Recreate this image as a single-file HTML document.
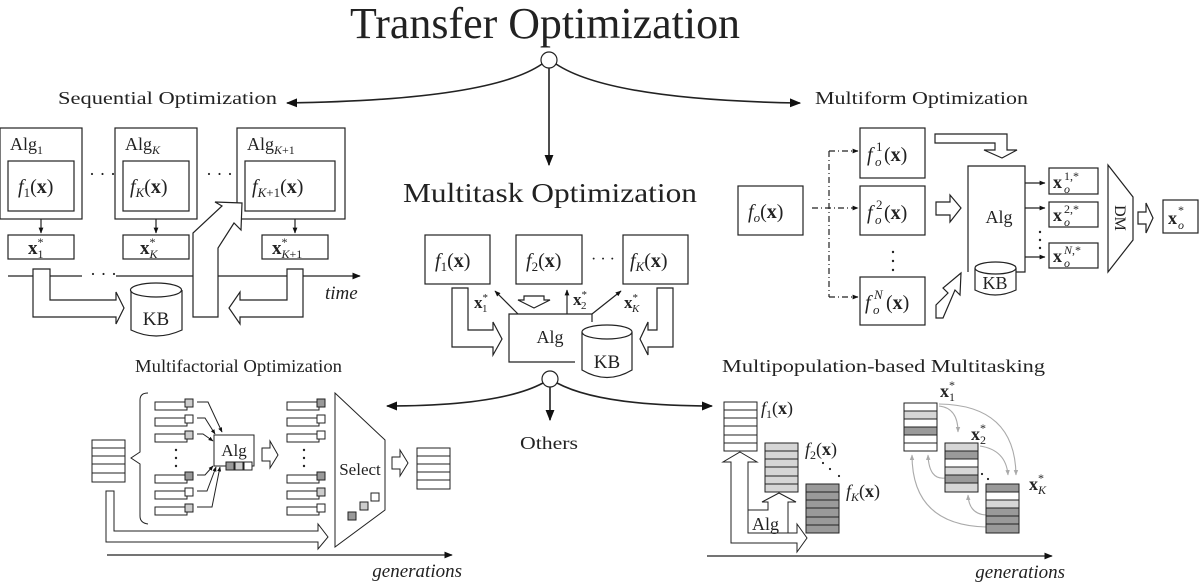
<!DOCTYPE html>
<html><head><meta charset="utf-8"><style>
html,body{margin:0;padding:0;background:#fff}
svg{display:block}
text{font-family:"Liberation Serif",serif;fill:#222}
</style></head><body>
<svg width="1200" height="584" viewBox="0 0 1200 584" xmlns="http://www.w3.org/2000/svg">
<defs>
<marker id="ah" viewBox="0 0 10 10" refX="9" refY="5" markerWidth="7" markerHeight="7" orient="auto-start-reverse"><path d="M0,1 L10,5 L0,9 z" fill="#111"/></marker>
<marker id="ahs" viewBox="0 0 10 10" refX="9" refY="5" markerWidth="5" markerHeight="5" orient="auto"><path d="M0,1 L10,5 L0,9 z" fill="#111"/></marker>
<marker id="ahg" viewBox="0 0 10 10" refX="9" refY="5" markerWidth="5" markerHeight="5" orient="auto"><path d="M0,1 L10,5 L0,9 z" fill="#aaa"/></marker>
</defs>
<g fill="none" stroke="#222" stroke-width="1.2">

<!-- Title -->
<text x="350" y="38" font-size="44" textLength="390" lengthAdjust="spacingAndGlyphs" stroke="none">Transfer Optimization</text>
<circle cx="549" cy="60" r="8" fill="#fff"/>
<path d="M542,64 Q490,100 287,103" marker-end="url(#ah)" stroke-width="1.6"/>
<path d="M556,64 Q610,100 800,103" marker-end="url(#ah)" stroke-width="1.6"/>
<path d="M549,68 L549,165" marker-end="url(#ah)" stroke-width="1.6"/>
<text x="58" y="104" font-size="18" textLength="219" lengthAdjust="spacingAndGlyphs" stroke="none">Sequential Optimization</text>
<text x="815" y="104" font-size="18" textLength="213" lengthAdjust="spacingAndGlyphs" stroke="none">Multiform Optimization</text>

<!-- Sequential -->
<rect x="0" y="128" width="82" height="91"/><rect x="8" y="161" width="66" height="50"/>
<rect x="115" y="128" width="82" height="91"/><rect x="123" y="161" width="66" height="50"/>
<rect x="237" y="128" width="108" height="91"/><rect x="245" y="161" width="90" height="50"/>
<g stroke="none" font-size="18">
<text x="10" y="150">Alg<tspan font-size="12" dy="4">1</tspan></text>
<text x="125" y="150">Alg<tspan font-size="12" dy="4" font-style="italic">K</tspan></text>
<text x="247" y="150">Alg<tspan font-size="12" dy="4" font-style="italic">K</tspan><tspan font-size="12">+1</tspan></text>
<text x="18" y="193" font-size="20"><tspan font-style="italic">f</tspan><tspan font-size="13" dy="4">1</tspan><tspan dy="-4">(</tspan><tspan font-weight="bold">x</tspan>)</text>
<text x="130" y="193" font-size="20"><tspan font-style="italic">f</tspan><tspan font-size="13" dy="4" font-style="italic">K</tspan><tspan dy="-4">(</tspan><tspan font-weight="bold">x</tspan>)</text>
<text x="252" y="193" font-size="20"><tspan font-style="italic">f</tspan><tspan font-size="13" dy="4" font-style="italic">K</tspan><tspan font-size="13">+1</tspan><tspan dy="-4">(</tspan><tspan font-weight="bold">x</tspan>)</text>
<text x="89" y="180" font-size="18">· · ·</text>
<text x="206" y="180" font-size="18">· · ·</text>
<text x="90" y="280" font-size="18">· · ·</text>
<text x="325" y="299" font-size="19" font-style="italic">time</text>
</g>
<path d="M41,219 L41,233" marker-end="url(#ahs)"/>
<path d="M156,219 L156,233" marker-end="url(#ahs)"/>
<path d="M295,219 L295,233" marker-end="url(#ahs)"/>
<rect x="8" y="235" width="66" height="24"/><rect x="123" y="235" width="66" height="24"/><rect x="262" y="235" width="66" height="24"/>
<g stroke="none" font-size="19">
<text x="28" y="254"><tspan font-weight="bold">x</tspan><tspan font-size="12" dy="-8">*</tspan><tspan font-size="12" dx="-6" dy="12">1</tspan></text>
<text x="140" y="254"><tspan font-weight="bold">x</tspan><tspan font-size="12" dy="-8">*</tspan><tspan font-size="12" dx="-6" dy="12" font-style="italic">K</tspan></text>
<text x="272" y="254"><tspan font-weight="bold">x</tspan><tspan font-size="12" dy="-8">*</tspan><tspan font-size="12" dx="-6" dy="12" font-style="italic">K</tspan><tspan font-size="12">+1</tspan></text>
</g>
<path d="M8,276 L82,276 M116,276 L360,276" marker-end="url(#ah)"/>
<path d="M131,290 L131,330 Q156,342 182,330 L182,290" fill="#fff"/><ellipse cx="156" cy="290" rx="25.5" ry="7" fill="#fff"/>
<text x="156" y="325" font-size="19" text-anchor="middle" stroke="none">KB</text>
<polygon points="33,269 50,269 50,300 116,300 116,292 124,308 116,324 116,317 33,317" fill="#fff"/>
<polygon points="287,269 303,269 303,317 240,317 240,324 229,308 240,292 240,300 287,300" fill="#fff"/>
<polygon points="193,317 193,233 222,206 215,202 242,203 241,230 234,223 218,248 218,317" fill="#fff"/>

<!-- Multiform -->
<rect x="738" y="186" width="65" height="49"/>
<rect x="860" y="128" width="65" height="50"/><rect x="860" y="186" width="65" height="49"/><rect x="860" y="277" width="65" height="48"/>
<g stroke-dasharray="6,3,1,3">
<path d="M812,208 L858,208" marker-end="url(#ahs)"/>
<path d="M829,151 L829,297"/>
<path d="M829,151 L858,151" marker-end="url(#ahs)"/>
<path d="M829,297 L858,297" marker-end="url(#ahs)"/>
</g>
<g stroke="none" font-size="20">
<text x="748" y="218"><tspan font-style="italic">f</tspan><tspan font-size="13" dy="4" font-style="italic">o</tspan><tspan dy="-4">(</tspan><tspan font-weight="bold">x</tspan>)</text>
<text x="867" y="161" font-style="italic">f</text><text x="876" y="151" font-size="13">1</text><text x="875" y="166" font-size="13" font-style="italic">o</text><text x="884" y="161">(<tspan font-weight="bold">x</tspan>)</text>
<text x="867" y="219" font-style="italic">f</text><text x="876" y="209" font-size="13">2</text><text x="875" y="224" font-size="13" font-style="italic">o</text><text x="884" y="219">(<tspan font-weight="bold">x</tspan>)</text>
<text x="865" y="309" font-style="italic">f</text><text x="874" y="299" font-size="13" font-style="italic">N</text><text x="873" y="314" font-size="13" font-style="italic">o</text><text x="886" y="309">(<tspan font-weight="bold">x</tspan>)</text>
<text x="999" y="223" text-anchor="middle" font-size="18">Alg</text>
<g font-size="18">
<text x="1168" y="224" font-weight="bold">x</text><text x="1178" y="214" font-size="12">*</text><text x="1178" y="229" font-size="12" font-style="italic">o</text>
<text x="1053" y="188" font-weight="bold">x</text><text x="1064" y="180" font-size="12">1,*</text><text x="1064" y="193" font-size="12" font-style="italic">o</text>
<text x="1053" y="221" font-weight="bold">x</text><text x="1064" y="213" font-size="12">2,*</text><text x="1064" y="226" font-size="12" font-style="italic">o</text>
<text x="1053" y="262" font-weight="bold">x</text><text x="1064" y="254" font-size="12"><tspan font-style="italic">N</tspan>,*</text><text x="1064" y="267" font-size="12" font-style="italic">o</text>
</g>
</g>
<g fill="#222" stroke="none"><circle cx="893" cy="252" r="1.2"/><circle cx="893" cy="261" r="1.2"/><circle cx="893" cy="270" r="1.2"/>
<circle cx="1040" cy="232" r="1.2"/><circle cx="1040" cy="240" r="1.2"/><circle cx="1040" cy="248" r="1.2"/></g>
<polygon points="935,134 1007,134 1007,150 1017,150 1002,158 984,150 995,150 995,143 935,143" fill="#fff"/>
<polygon points="936,202 950,202 950,195 961,208 950,222 950,215 936,215" fill="#fff"/>
<polygon points="936,318 936,305 948,293 943,288 961,273 960,295 955,290 943,318" fill="#fff"/>
<path d="M968,272 L968,166 L1025,166 L1025,272 L1016,272"/>
<path d="M975,268 L975,290 Q995,300 1016,290 L1016,268" fill="#fff"/><ellipse cx="995.5" cy="268" rx="20.5" ry="6" fill="#fff"/>
<text x="995" y="289" font-size="18" text-anchor="middle" stroke="none">KB</text>
<path d="M1025,183 L1045,183" marker-end="url(#ahs)"/>
<path d="M1025,208 L1045,208" marker-end="url(#ahs)"/>
<path d="M1025,257 L1045,257" marker-end="url(#ahs)"/>
<rect x="1049" y="168" width="49" height="26"/><rect x="1049" y="202" width="49" height="25"/><rect x="1049" y="243" width="49" height="25"/>
<polygon points="1108,165 1133,197 1133,240 1108,272"/>
<text x="1120" y="218" font-size="16" stroke="none" transform="rotate(90 1120 218)" text-anchor="middle" dy="5">DM</text>
<polygon points="1138,212 1146,212 1146,203 1153,218 1146,233 1146,224 1138,224" fill="#fff"/>
<rect x="1163" y="200" width="35" height="33"/>

<!-- Multitask -->
<text x="403" y="202" font-size="27" textLength="294" lengthAdjust="spacingAndGlyphs" stroke="none">Multitask Optimization</text>
<rect x="425" y="235" width="65" height="49"/><rect x="516" y="235" width="66" height="49"/><rect x="623" y="235" width="65" height="49"/>
<g stroke="none" font-size="20">
<text x="435" y="267"><tspan font-style="italic">f</tspan><tspan font-size="13" dy="4">1</tspan><tspan dy="-4">(</tspan><tspan font-weight="bold">x</tspan>)</text>
<text x="526" y="267"><tspan font-style="italic">f</tspan><tspan font-size="13" dy="4">2</tspan><tspan dy="-4">(</tspan><tspan font-weight="bold">x</tspan>)</text>
<text x="630" y="267"><tspan font-style="italic">f</tspan><tspan font-size="13" dy="4" font-style="italic">K</tspan><tspan dy="-4">(</tspan><tspan font-weight="bold">x</tspan>)</text>
<text x="591" y="264" font-size="16">· · ·</text>
<text x="550" y="343" font-size="18" text-anchor="middle">Alg</text>
<g font-size="17">
<text x="474" y="308"><tspan font-weight="bold">x</tspan><tspan font-size="11" dy="-7">*</tspan><tspan font-size="11" dx="-6" dy="11">1</tspan></text>
<text x="573" y="305"><tspan font-weight="bold">x</tspan><tspan font-size="11" dy="-7">*</tspan><tspan font-size="11" dx="-6" dy="11">2</tspan></text>
<text x="624" y="308"><tspan font-weight="bold">x</tspan><tspan font-size="11" dy="-7">*</tspan><tspan font-size="11" dx="-6" dy="11" font-style="italic">K</tspan></text>
</g>
</g>
<path d="M575,362 L509,362 L509,314 L592,314 L592,322"/>
<path d="M518,314 L495,291" marker-end="url(#ahs)"/>
<path d="M567,314 L567,290" marker-end="url(#ahs)"/>
<path d="M592,314 L621,291" marker-end="url(#ahs)"/>
<polygon points="524,296 544,296 544,300 550,300 534,308 518,300 524,300" fill="#fff"/>
<polygon points="452,288 468,288 468,330 493,330 493,322 502,339 493,355 493,347 452,347" fill="#fff"/>
<polygon points="673,288 657,288 657,330 648,330 648,322 640,339 648,355 648,347 673,347" fill="#fff"/>
<path d="M582,332 L582,370 Q607,385 632,370 L632,332" fill="#fff"/><ellipse cx="607" cy="332" rx="25" ry="7" fill="#fff"/>
<text x="607" y="368" font-size="19" text-anchor="middle" stroke="none">KB</text>

<circle cx="550" cy="379" r="8" fill="#fff"/>
<path d="M543,383 Q500,406 387,406" marker-end="url(#ah)" stroke-width="1.6"/>
<path d="M557,383 Q600,406 712,406" marker-end="url(#ah)" stroke-width="1.6"/>
<path d="M550,387 L550,420" marker-end="url(#ah)" stroke-width="1.6"/>
<text x="520" y="449" font-size="18" textLength="58" lengthAdjust="spacingAndGlyphs" stroke="none">Others</text>
<text x="135" y="372" font-size="18" textLength="207" lengthAdjust="spacingAndGlyphs" stroke="none">Multifactorial Optimization</text>
<text x="722" y="372" font-size="18" textLength="323" lengthAdjust="spacingAndGlyphs" stroke="none">Multipopulation-based Multitasking</text>

<!-- Multifactorial -->
<g stroke-width="1">
<rect x="92" y="440" width="33" height="42"/><path d="M92,448 H125 M92,456 H125 M92,464 H125 M92,473 H125"/>
<path d="M148,393 Q140,393 140,400 L140,452 L131,458 L140,464 L140,516 Q140,523 148,524"/>
<rect x="155" y="402" width="32" height="8"/><rect x="185" y="399" width="8" height="8" fill="#ccc"/>
<rect x="155" y="418" width="32" height="8"/><rect x="185" y="415" width="8" height="8" fill="#fff"/>
<rect x="155" y="434" width="32" height="8"/><rect x="185" y="431" width="8" height="8" fill="#ccc"/>
<rect x="155" y="475" width="32" height="8"/><rect x="185" y="472" width="8" height="8" fill="#999"/>
<rect x="155" y="491" width="32" height="8"/><rect x="185" y="488" width="8" height="8" fill="#fff"/>
<rect x="155" y="507" width="32" height="8"/><rect x="185" y="504" width="8" height="8" fill="#ccc"/>
<rect x="287" y="402" width="32" height="8"/><rect x="317" y="399" width="8" height="8" fill="#999"/>
<rect x="287" y="418" width="32" height="8"/><rect x="317" y="415" width="8" height="8" fill="#fff"/>
<rect x="287" y="434" width="32" height="8"/><rect x="317" y="431" width="8" height="8" fill="#fff"/>
<rect x="287" y="475" width="32" height="8"/><rect x="317" y="472" width="8" height="8" fill="#999"/>
<rect x="287" y="491" width="32" height="8"/><rect x="317" y="488" width="8" height="8" fill="#ccc"/>
<rect x="287" y="507" width="32" height="8"/><rect x="317" y="504" width="8" height="8" fill="#fff"/>
<g fill="#222" stroke="none"><circle cx="176" cy="450" r="1.2"/><circle cx="176" cy="458" r="1.2"/><circle cx="176" cy="466" r="1.2"/>
<circle cx="304" cy="450" r="1.2"/><circle cx="304" cy="458" r="1.2"/><circle cx="304" cy="466" r="1.2"/></g>
<path d="M197,402 L208,402 L222,432" marker-end="url(#ahs)"/>
<path d="M197,418 L205,418 L215,434" marker-end="url(#ahs)"/>
<path d="M197,434 L203,434 L213,441" marker-end="url(#ahs)"/>
<path d="M197,475 L205,475 L213,466" marker-end="url(#ahs)"/>
<path d="M197,491 L207,491 L216,467" marker-end="url(#ahs)"/>
<path d="M197,507 L212,507 L220,467" marker-end="url(#ahs)"/>
<rect x="214" y="435" width="40" height="31" fill="#fff"/>
<rect x="226" y="462" width="8" height="8" fill="#999"/><rect x="235" y="462" width="8" height="8" fill="#ccc"/><rect x="244" y="462" width="8" height="8" fill="#fff"/>
<polygon points="262,448 270,448 270,441 278,455 270,468 270,461 262,461" fill="#fff"/>
<polygon points="335,393 385,440 385,510 335,547" fill="#fff"/>
<rect x="348" y="512" width="8" height="8" fill="#999"/><rect x="360" y="502" width="8" height="8" fill="#ccc"/><rect x="371" y="493" width="8" height="8" fill="#fff"/>
<polygon points="392,457 400,457 400,450 408,463 400,476 400,469 392,469" fill="#fff"/>
<rect x="417" y="448" width="33" height="41"/><path d="M417,456 H450 M417,464 H450 M417,472 H450 M417,480 H450"/>
<polygon points="106,491 114,491 114,531 318,531 318,524 328,537 318,549 318,542 106,542" fill="#fff"/>
</g>
<text x="360" y="475" font-size="17" stroke="none" text-anchor="middle">Select</text>
<text x="234" y="456" font-size="17" stroke="none" text-anchor="middle">Alg</text>
<path d="M107,555 L452,555" marker-end="url(#ah)"/>
<text x="462" y="577" font-size="19" font-style="italic" text-anchor="end" stroke="none">generations</text>

<!-- Multipopulation -->
<g stroke-width="1">
<rect x="724" y="402" width="33" height="49" fill="#fff"/>
<path d="M724,410 H757 M724,418 H757 M724,426 H757 M724,435 H757 M724,443 H757"/>
<rect x="765" y="443" width="33" height="49" fill="#d6d6d6"/>
<path d="M765,451 H798 M765,459 H798 M765,467 H798 M765,476 H798 M765,484 H798"/>
<rect x="806" y="484" width="33" height="49" fill="#9a9a9a"/>
<path d="M806,492 H839 M806,500 H839 M806,508 H839 M806,517 H839 M806,525 H839"/>
<polygon points="740,452 757,462 748,462 748,533 797,533 797,524 807,538 797,552 797,543 731,543 731,462 723,462" fill="#fff"/>
<polyline points="748,510 768,510 768,502 762,502 779,493 796,502 788,502 788,533"/>
</g>
<g stroke="none" font-size="18">
<text x="761" y="414"><tspan font-style="italic">f</tspan><tspan font-size="12" dy="4">1</tspan><tspan dy="-4">(</tspan><tspan font-weight="bold">x</tspan>)</text>
<text x="805" y="455"><tspan font-style="italic">f</tspan><tspan font-size="12" dy="4">2</tspan><tspan dy="-4">(</tspan><tspan font-weight="bold">x</tspan>)</text>
<text x="846" y="497"><tspan font-style="italic">f</tspan><tspan font-size="12" dy="4" font-style="italic">K</tspan><tspan dy="-4">(</tspan><tspan font-weight="bold">x</tspan>)</text>
<text x="752" y="530">Alg</text>
<text x="940" y="397"><tspan font-weight="bold">x</tspan><tspan font-size="12" dy="-8">*</tspan><tspan font-size="12" dx="-6" dy="12">1</tspan></text>
<text x="971" y="440"><tspan font-weight="bold">x</tspan><tspan font-size="12" dy="-8">*</tspan><tspan font-size="12" dx="-6" dy="12">2</tspan></text>
<text x="1029" y="490"><tspan font-weight="bold">x</tspan><tspan font-size="12" dy="-8">*</tspan><tspan font-size="12" dx="-6" dy="12" font-style="italic">K</tspan></text>
</g>
<g fill="#222" stroke="none"><circle cx="823" cy="463" r="1.1"/><circle cx="830" cy="469" r="1.1"/><circle cx="839" cy="476" r="1.1"/>
<circle cx="982" cy="474" r="1.1"/><circle cx="988" cy="479" r="1.1"/><circle cx="995" cy="486" r="1.1"/></g>
<g stroke="#aaa" stroke-width="1.1">
<path d="M939,406 Q958,408 958,432" marker-end="url(#ahg)"/>
<path d="M939,404 Q1015,405 1016,475" marker-end="url(#ahg)"/>
<path d="M980,446 Q1006,450 1008,475" marker-end="url(#ahg)"/>
<path d="M945,478 Q929,480 928,455" marker-end="url(#ahg)"/>
<path d="M986,527 Q912,525 912,455" marker-end="url(#ahg)"/>
<path d="M986,515 Q969,514 968,495" marker-end="url(#ahg)"/>
</g>
<g stroke-width="1">
<rect x="904" y="403" width="33" height="8" fill="#fff"/><rect x="904" y="411" width="33" height="8" fill="#d6d6d6"/><rect x="904" y="419" width="33" height="8" fill="#fff"/><rect x="904" y="427" width="33" height="8" fill="#9a9a9a"/><rect x="904" y="435" width="33" height="8" fill="#fff"/><rect x="904" y="443" width="33" height="8" fill="#fff"/>
<rect x="945" y="443" width="33" height="8" fill="#d6d6d6"/><rect x="945" y="451" width="33" height="8" fill="#9a9a9a"/><rect x="945" y="459" width="33" height="8" fill="#fff"/><rect x="945" y="467" width="33" height="8" fill="#d6d6d6"/><rect x="945" y="475" width="33" height="8" fill="#9a9a9a"/><rect x="945" y="483" width="33" height="9" fill="#d6d6d6"/>
<rect x="986" y="484" width="33" height="8" fill="#9a9a9a"/><rect x="986" y="492" width="33" height="8" fill="#fff"/><rect x="986" y="500" width="33" height="8" fill="#d6d6d6"/><rect x="986" y="508" width="33" height="8" fill="#9a9a9a"/><rect x="986" y="516" width="33" height="8" fill="#9a9a9a"/><rect x="986" y="524" width="33" height="9" fill="#9a9a9a"/>
</g>
<path d="M707,556 L1052,556" marker-end="url(#ah)"/>
<text x="1065" y="578" font-size="19" font-style="italic" text-anchor="end" stroke="none">generations</text>
</g>
</svg>
</body></html>
